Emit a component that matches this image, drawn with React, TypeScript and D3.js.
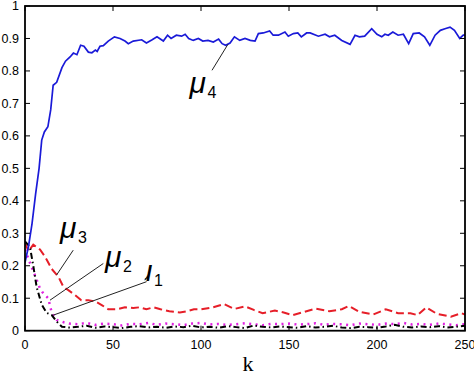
import React from "react";
import * as d3 from "d3";

const W = 474;
const H = 377;

const xTicks = [0, 50, 100, 150, 200, 250];
const yTicks = [0, 0.1, 0.2, 0.3, 0.4, 0.5, 0.6, 0.7, 0.8, 0.9, 1];
const yTickLabels = ["0", "0.1", "0.2", "0.3", "0.4", "0.5", "0.6", "0.7", "0.8", "0.9", "1"];
const xLabel = "k";

// mu4 (blue solid)
const mu4K = [0, 2, 4, 6, 8, 9.5, 11, 13, 14.6, 16, 18, 21, 23, 25.6, 27.5, 29.5, 31.6, 33.5, 36, 38, 40, 41, 42.6, 44.5, 47.3, 50.8, 54, 56.8, 58.7, 61.5, 66.3, 69, 72, 75, 78.6, 81, 83, 86, 89, 91, 93, 95.6, 98.5, 101, 104, 107, 110, 112, 114, 116.5, 119, 122, 125, 128, 130.7, 132.6, 135.4, 139, 141, 144, 147.7, 149.6, 152.5, 155, 157, 160, 162, 166.7, 170.5, 173, 176, 180, 184.7, 187.5, 190, 193, 197, 200, 202.7, 204.5, 206.4, 209, 212, 215, 218, 220.6, 224, 227, 230, 233, 236, 238.6, 241.5, 244, 247, 249, 250];
const mu4V = [0.21, 0.26, 0.33, 0.42, 0.5, 0.587, 0.612, 0.628, 0.68, 0.756, 0.765, 0.81, 0.83, 0.843, 0.855, 0.85, 0.879, 0.876, 0.858, 0.856, 0.864, 0.86, 0.876, 0.878, 0.892, 0.905, 0.9, 0.892, 0.884, 0.892, 0.896, 0.886, 0.895, 0.905, 0.892, 0.91, 0.9, 0.91, 0.907, 0.913, 0.9, 0.894, 0.9, 0.892, 0.894, 0.889, 0.898, 0.884, 0.879, 0.886, 0.905, 0.894, 0.9, 0.894, 0.892, 0.915, 0.917, 0.923, 0.91, 0.91, 0.92, 0.907, 0.915, 0.917, 0.905, 0.917, 0.917, 0.907, 0.913, 0.905, 0.91, 0.894, 0.882, 0.91, 0.905, 0.907, 0.93, 0.913, 0.905, 0.913, 0.91, 0.92, 0.91, 0.913, 0.884, 0.915, 0.917, 0.905, 0.879, 0.91, 0.925, 0.93, 0.935, 0.925, 0.9, 0.91, 0.91];

// mu3 (red dashed)
const mu3K = [0, 2, 4.7, 8.5, 11.4, 15.2, 19, 21.8, 24.6, 28.4, 32, 36, 40, 43.6, 47.3, 52, 56.8, 61.5, 65, 69, 73, 77, 82, 88, 92, 96, 100, 107, 113, 119, 125, 130, 135, 142, 147, 152, 158, 165, 173, 180, 184, 190, 198, 205, 212, 219, 223, 228, 234, 242, 248, 250];
const mu3V = [0.27, 0.245, 0.265, 0.25, 0.228, 0.19, 0.166, 0.135, 0.125, 0.11, 0.094, 0.094, 0.09, 0.079, 0.066, 0.066, 0.072, 0.07, 0.072, 0.066, 0.072, 0.066, 0.06, 0.056, 0.06, 0.066, 0.066, 0.072, 0.082, 0.067, 0.075, 0.064, 0.054, 0.062, 0.056, 0.048, 0.057, 0.068, 0.06, 0.066, 0.076, 0.058, 0.05, 0.066, 0.054, 0.054, 0.048, 0.072, 0.052, 0.043, 0.054, 0.05];

// mu2 (magenta dotted)
const mu2K = [0, 2, 5.7, 8.5, 10.4, 13.2, 15.2, 18, 22, 25, 30, 35, 40, 45, 50, 55, 60, 65, 70, 75, 80, 85, 90, 95, 100, 105, 110, 115, 120, 125, 130, 135, 140, 145, 150, 155, 160, 165, 170, 175, 180, 185, 190, 195, 200, 205, 210, 215, 220, 225, 230, 235, 240, 245, 250];
const mu2V = [0.25, 0.22, 0.17, 0.13, 0.115, 0.1, 0.055, 0.033, 0.026, 0.022, 0.02, 0.024, 0.018, 0.022, 0.02, 0.016, 0.021, 0.02, 0.024, 0.018, 0.022, 0.02, 0.017, 0.022, 0.024, 0.019, 0.021, 0.018, 0.02, 0.023, 0.02, 0.017, 0.021, 0.02, 0.022, 0.019, 0.02, 0.023, 0.018, 0.021, 0.02, 0.017, 0.022, 0.02, 0.018, 0.022, 0.02, 0.024, 0.019, 0.021, 0.018, 0.022, 0.02, 0.017, 0.02];

// mu1 (black dash-dot)
const mu1K = [0, 2.8, 4.7, 6.6, 9.5, 12.3, 15.2, 18, 21, 25, 30, 35, 40, 45, 50, 55, 60, 65, 70, 75, 80, 85, 90, 95, 100, 105, 110, 115, 120, 125, 130, 135, 140, 145, 150, 155, 160, 165, 170, 175, 180, 185, 190, 195, 200, 205, 210, 215, 220, 225, 230, 235, 240, 245, 250];
const mu1V = [0.275, 0.258, 0.2, 0.135, 0.08, 0.055, 0.048, 0.028, 0.012, 0.01, 0.012, 0.015, 0.009, 0.013, 0.011, 0.008, 0.012, 0.014, 0.01, 0.012, 0.009, 0.013, 0.011, 0.015, 0.01, 0.012, 0.009, 0.014, 0.011, 0.008, 0.016, 0.012, 0.01, 0.013, 0.011, 0.009, 0.014, 0.01, 0.012, 0.015, 0.01, 0.008, 0.012, 0.011, 0.009, 0.013, 0.018, 0.012, 0.01, 0.013, 0.011, 0.014, 0.01, 0.012, 0.015];

// annotations: label text, subscript, label anchor (k, v), leader line from/to (k, v)
const annNames = ["μ", "μ", "μ", "μ"];
const annSubs = ["4", "3", "2", "1"];
const annLabelK = [93.5, 19.9, 45.5, 63];
const annLabelV = [0.732, 0.285, 0.196, 0.153];
const annFromK = [106.25, 27.4, 44.5, 69.1];
const annFromV = [0.802, 0.248, 0.207, 0.151];
const annToK = [115.3, 18, 14.2, 16.1];
const annToV = [0.882, 0.172, 0.094, 0.048];

export default function App() {
  const left = 25, right = 465, top = 6, bottom = 330.7;
  const x = d3.scaleLinear().domain([0, 250]).range([left, right]);
  const y = d3.scaleLinear().domain([0, 1]).range([bottom, top]);

  const mk = (ks: number[], vs: number[]) =>
    d3.line<number>().x((_, i) => x(ks[i])).y((_, i) => y(vs[i]))(ks) || "";

  const tickLen = 5;
  const font = "'Liberation Sans', Arial, sans-serif";

  return (
    <svg width={W} height={H} style={{ position: "absolute", left: 0, top: 0, background: "#fff" }}>
      <defs>
        <clipPath id="plot">
          <rect x={left} y={top} width={right - left} height={bottom - top} />
        </clipPath>
        <clipPath id="mu1clip">
          <rect x={x(68)} y={0} width={100} height={H} />
        </clipPath>
      </defs>
      <rect x={0} y={0} width={W} height={H} fill="#fff" />
      <g clipPath="url(#plot)">
        <path d={mk(mu3K, mu3V)} fill="none" stroke="#e61e28" strokeWidth={2} strokeDasharray="8,4" />
        <path d={mk(mu2K, mu2V)} fill="none" stroke="#e020e0" strokeWidth={2.5} strokeDasharray="2,4.5" />
        <path d={mk(mu1K, mu1V)} fill="none" stroke="#000" strokeWidth={2} strokeDasharray="6,3,1.5,3" />
        <path d={mk(mu4K, mu4V)} fill="none" stroke="#1a1ad8" strokeWidth={1.7} />
      </g>
      {/* leader lines */}
      {annSubs.map((s, i) => (
        <line key={"l" + i} x1={x(annFromK[i])} y1={y(annFromV[i])} x2={x(annToK[i])} y2={y(annToV[i])} stroke="#222" strokeWidth={1} />
      ))}
      {/* labels */}
      {annSubs.map((s, i) => (
        <g key={"t" + i} clipPath={i === 3 ? "url(#mu1clip)" : undefined}>
          <text x={x(annLabelK[i])} y={y(annLabelV[i])} fontFamily={font} fontStyle="italic" fontSize={30} fill="#000">
            {annNames[i]}
          </text>
          <text x={x(annLabelK[i]) + 18} y={y(annLabelV[i]) + 5} fontFamily={font} fontSize={16} fill="#000">
            {s}
          </text>
        </g>
      ))}
      {/* frame */}
      <rect x={left} y={top} width={right - left} height={bottom - top} fill="none" stroke="#000" strokeWidth={1.8} />
      {/* ticks */}
      {xTicks.map((t) => (
        <g key={"xt" + t}>
          <line x1={x(t)} x2={x(t)} y1={bottom} y2={bottom - tickLen} stroke="#000" strokeWidth={1} />
          <line x1={x(t)} x2={x(t)} y1={top} y2={top + tickLen} stroke="#000" strokeWidth={1} />
          <text x={x(t)} y={bottom + 18} textAnchor="middle" fontFamily={font} fontSize={12.5} fill="#000">
            {t}
          </text>
        </g>
      ))}
      {yTicks.map((t, i) => (
        <g key={"yt" + t}>
          <line x1={left} x2={left + tickLen} y1={y(t)} y2={y(t)} stroke="#000" strokeWidth={1} />
          <line x1={right} x2={right - tickLen} y1={y(t)} y2={y(t)} stroke="#000" strokeWidth={1} />
          <text x={19} y={y(t) + 4.4} textAnchor="end" fontFamily={font} fontSize={12.5} fill="#000">
            {yTickLabels[i]}
          </text>
        </g>
      ))}
      <text x={248} y={371} textAnchor="middle" fontFamily="'Liberation Serif', 'Times New Roman', serif" fontSize={22} fill="#000">
        {xLabel}
      </text>
    </svg>
  );
}
